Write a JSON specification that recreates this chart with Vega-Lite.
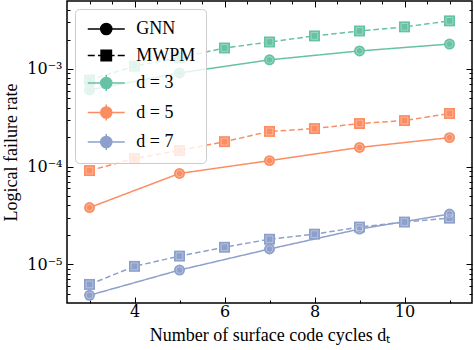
{
  "$schema": "https://vega.github.io/schema/vega-lite/v6.json",
  "width": 405,
  "height": 302,
  "autosize": {"type": "none"},
  "padding": {"left": 67, "top": 1, "right": 2, "bottom": 47},
  "background": "white",
  "config": {
    "view": {"stroke": "black", "strokeWidth": 1.5},
    "font": "Liberation Serif",
    "axis": {
      "grid": false,
      "domain": false,
      "labelFont": "DejaVu Serif",
      "titleFont": "Liberation Serif",
      "labelFontSize": 16,
      "titleFontSize": 18,
      "titleFontWeight": "normal",
      "labelColor": "black",
      "titleColor": "black",
      "tickColor": "black",
      "tickWidth": 1
    },
    "legend": {
      "orient": "top-left",
      "offset": 8,
      "fillColor": "rgba(255,255,255,0.8)",
      "strokeColor": "#cccccc",
      "cornerRadius": 4,
      "padding": 10,
      "labelFont": "Liberation Serif",
      "labelFontSize": 18,
      "labelColor": "black",
      "symbolSize": 342.25,
      "symbolOffset": 11.25,
      "symbolStrokeWidth": 1.5,
      "labelOffset": 20,
      "rowPadding": 7.5
    }
  },
  "data": {
    "values": [
      {"decoder": "GNN", "series": "d = 3", "dt": 3, "rate": 0.00061},
      {"decoder": "GNN", "series": "d = 3", "dt": 5, "rate": 0.00091},
      {"decoder": "GNN", "series": "d = 3", "dt": 7, "rate": 0.00124},
      {"decoder": "GNN", "series": "d = 3", "dt": 9, "rate": 0.00153},
      {"decoder": "GNN", "series": "d = 3", "dt": 11, "rate": 0.0018},
      {"decoder": "MWPM", "series": "d = 3", "dt": 3, "rate": 0.00077},
      {"decoder": "MWPM", "series": "d = 3", "dt": 4, "rate": 0.00107},
      {"decoder": "MWPM", "series": "d = 3", "dt": 5, "rate": 0.0013},
      {"decoder": "MWPM", "series": "d = 3", "dt": 6, "rate": 0.00164},
      {"decoder": "MWPM", "series": "d = 3", "dt": 7, "rate": 0.00189},
      {"decoder": "MWPM", "series": "d = 3", "dt": 8, "rate": 0.00218},
      {"decoder": "MWPM", "series": "d = 3", "dt": 9, "rate": 0.00245},
      {"decoder": "MWPM", "series": "d = 3", "dt": 10, "rate": 0.0027},
      {"decoder": "MWPM", "series": "d = 3", "dt": 11, "rate": 0.00311},
      {"decoder": "GNN", "series": "d = 5", "dt": 3, "rate": 0.000038},
      {"decoder": "GNN", "series": "d = 5", "dt": 5, "rate": 0.000085},
      {"decoder": "GNN", "series": "d = 5", "dt": 7, "rate": 0.000115},
      {"decoder": "GNN", "series": "d = 5", "dt": 9, "rate": 0.000157},
      {"decoder": "GNN", "series": "d = 5", "dt": 11, "rate": 0.000198},
      {"decoder": "MWPM", "series": "d = 5", "dt": 3, "rate": 0.000091},
      {"decoder": "MWPM", "series": "d = 5", "dt": 4, "rate": 0.000121},
      {"decoder": "MWPM", "series": "d = 5", "dt": 5, "rate": 0.000146},
      {"decoder": "MWPM", "series": "d = 5", "dt": 6, "rate": 0.00018},
      {"decoder": "MWPM", "series": "d = 5", "dt": 7, "rate": 0.000229},
      {"decoder": "MWPM", "series": "d = 5", "dt": 8, "rate": 0.000245},
      {"decoder": "MWPM", "series": "d = 5", "dt": 9, "rate": 0.000276},
      {"decoder": "MWPM", "series": "d = 5", "dt": 10, "rate": 0.000296},
      {"decoder": "MWPM", "series": "d = 5", "dt": 11, "rate": 0.00035},
      {"decoder": "GNN", "series": "d = 7", "dt": 3, "rate": 0.0000048},
      {"decoder": "GNN", "series": "d = 7", "dt": 5, "rate": 0.0000087},
      {"decoder": "GNN", "series": "d = 7", "dt": 7, "rate": 0.0000143},
      {"decoder": "GNN", "series": "d = 7", "dt": 9, "rate": 0.0000229},
      {"decoder": "GNN", "series": "d = 7", "dt": 11, "rate": 0.0000326},
      {"decoder": "MWPM", "series": "d = 7", "dt": 3, "rate": 0.0000062},
      {"decoder": "MWPM", "series": "d = 7", "dt": 4, "rate": 0.0000095},
      {"decoder": "MWPM", "series": "d = 7", "dt": 5, "rate": 0.0000121},
      {"decoder": "MWPM", "series": "d = 7", "dt": 6, "rate": 0.0000149},
      {"decoder": "MWPM", "series": "d = 7", "dt": 7, "rate": 0.000018},
      {"decoder": "MWPM", "series": "d = 7", "dt": 8, "rate": 0.0000203},
      {"decoder": "MWPM", "series": "d = 7", "dt": 9, "rate": 0.000024},
      {"decoder": "MWPM", "series": "d = 7", "dt": 10, "rate": 0.000027},
      {"decoder": "MWPM", "series": "d = 7", "dt": 11, "rate": 0.0000296}
    ]
  },
  "resolve": {"axis": {"x": "independent", "y": "independent"}},
  "layer": [
    {
      "mark": {"type": "line", "strokeWidth": 1.5},
      "encoding": {
        "x": {
          "field": "dt", "type": "quantitative",
          "scale": {"domain": [2.5, 11.5], "nice": false, "zero": false},
          "axis": {
            "orient": "bottom",
            "values": [3, 3.5, 4, 4.5, 5, 5.5, 6, 6.5, 7, 7.5, 8, 8.5, 9, 9.5, 10, 10.5, 11],
            "format": "d",
            "labelExpr": "datum.value % 2 == 0 ? datum.label : ''",
            "labelOverlap": false,
            "labelFlush": false,
            "tickSize": {"condition": {"test": "datum.value % 2 == 0", "value": -6}, "value": -3},
            "labelPadding": 6,
            "title": "Number of surface code cycles dₜ",
            "titlePadding": 4
          }
        },
        "y": {
          "field": "rate", "type": "quantitative",
          "scale": {"type": "log", "domain": [0.000004, 0.00497], "nice": false},
          "axis": {
            "orient": "left",
            "values": [0.000005, 0.000006, 0.000007, 0.000008, 0.000009, 0.00001, 0.00002, 0.00003, 0.00004, 0.00005, 0.00006, 0.00007, 0.00008, 0.00009, 0.0001, 0.0002, 0.0003, 0.0004, 0.0005, 0.0006, 0.0007, 0.0008, 0.0009, 0.001, 0.002, 0.003, 0.004],
            "labelExpr": "abs(datum.value-0.001)<1e-9 ? '10⁻³' : abs(datum.value-0.0001)<1e-10 ? '10⁻⁴' : abs(datum.value-0.00001)<1e-11 ? '10⁻⁵' : ''",
            "labelOverlap": false,
            "labelFlush": false,
            "tickSize": {"condition": {"test": "abs(log(datum.value)/LN10 - round(log(datum.value)/LN10)) < 0.001", "value": -6}, "value": -3},
            "labelPadding": 11,
            "title": "Logical failure rate",
            "titlePadding": 6
          }
        },
        "color": {
          "field": "series", "type": "nominal",
          "scale": {"domain": ["GNN", "MWPM", "d = 3", "d = 5", "d = 7"], "range": ["black", "black", "#66c2a5", "#fc8d62", "#8da0cb"]},
          "legend": {
            "title": null,
            "encode": {
              "symbols": {
                "update": {
                  "shape": {"signal": "datum.value === 'MWPM' ? 'M-2,0H-1.24M-0.9,0H0.9M1.24,0H2M-0.56,-0.56H0.56V0.56H-0.56Z' : datum.value === 'GNN' ? 'M-2,0H2M0.6,0A0.6,0.6 0 1,1 -0.6,0A0.6,0.6 0 1,1 0.6,0Z' : 'M-2,0H2M0,-0.86V0.86M0.6,0A0.6,0.6 0 1,1 -0.6,0A0.6,0.6 0 1,1 0.6,0Z'"},
                  "fill": {"signal": "scale('color', datum.value)"},
                  "stroke": {"signal": "scale('color', datum.value)"},
                  "fillOpacity": {"value": 1},
                  "opacity": {"value": 1},
                  "strokeWidth": {"value": 1.5}
                }
              }
            }
          }
        },
        "strokeDash": {
          "field": "decoder", "type": "nominal",
          "scale": {"domain": ["GNN", "MWPM"], "range": [[1, 0], [5.5, 3]]},
          "legend": null
        },
        "detail": {"field": "decoder"}
      }
    },
    {
      "mark": {"type": "point", "filled": true, "size": 120, "opacity": 1},
      "encoding": {
        "x": {
          "field": "dt", "type": "quantitative",
          "axis": {
            "orient": "top",
            "values": [3, 3.5, 4, 4.5, 5, 5.5, 6, 6.5, 7, 7.5, 8, 8.5, 9, 9.5, 10, 10.5, 11],
            "labels": false,
            "tickSize": {"condition": {"test": "datum.value % 2 == 0", "value": -6}, "value": -3},
            "title": null
          }
        },
        "y": {
          "field": "rate", "type": "quantitative",
          "axis": {
            "orient": "right",
            "values": [0.000005, 0.000006, 0.000007, 0.000008, 0.000009, 0.00001, 0.00002, 0.00003, 0.00004, 0.00005, 0.00006, 0.00007, 0.00008, 0.00009, 0.0001, 0.0002, 0.0003, 0.0004, 0.0005, 0.0006, 0.0007, 0.0008, 0.0009, 0.001, 0.002, 0.003, 0.004],
            "labels": false,
            "tickSize": {"condition": {"test": "abs(log(datum.value)/LN10 - round(log(datum.value)/LN10)) < 0.001", "value": -6}, "value": -3},
            "title": null
          }
        },
        "color": {"field": "series", "type": "nominal"},
        "shape": {
          "field": "decoder", "type": "nominal",
          "scale": {"domain": ["GNN", "MWPM"], "range": ["circle", "square"]},
          "legend": null
        }
      }
    },
    {
      "mark": {"type": "point", "filled": false, "size": 45, "stroke": "white", "strokeOpacity": 0.5, "strokeWidth": 1},
      "encoding": {
        "x": {"field": "dt", "type": "quantitative", "axis": null},
        "y": {"field": "rate", "type": "quantitative", "axis": null},
        "shape": {"field": "decoder", "type": "nominal", "legend": null}
      }
    }
  ]
}
